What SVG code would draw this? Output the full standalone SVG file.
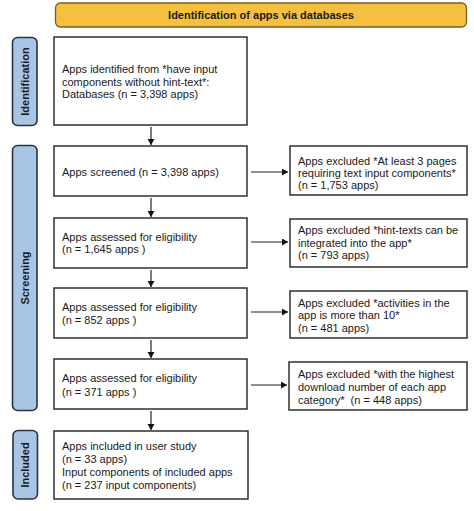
<svg xmlns="http://www.w3.org/2000/svg" width="474" height="511" viewBox="0 0 474 511">
<style>
text{font-family:"Liberation Sans",Arial,sans-serif;font-size:11px;fill:#1a1a1a}
.box{fill:#fff;stroke:#222;stroke-width:1.4}
.side{fill:#a9c5e6;stroke:#2a3440;stroke-width:1.6}
.banner{fill:#f5c040;stroke:#7a5c22;stroke-width:1.3}
.b{font-weight:bold}
.c{fill:none;stroke:#222;stroke-width:1.2}
</style>
<defs>
<marker id="ah" markerWidth="8" markerHeight="8" refX="6" refY="3.5" orient="auto" markerUnits="userSpaceOnUse">
<path d="M0,0 L6,3.5 L0,7 Z" fill="#111"/>
</marker>
</defs>
<rect width="474" height="511" fill="#fff"/>
<g id="banner">
<rect class="banner" x="55.5" y="3" width="411" height="24" rx="5"/>
<text class="b" x="261" y="19" text-anchor="middle">Identification of apps via databases</text>
</g>
<g id="label-identification">
<rect class="side" x="12.5" y="37.5" width="24.5" height="88" rx="5"/>
<text class="b" transform="translate(28.5,81.5) rotate(-90)" text-anchor="middle">Identification</text>
</g>
<g id="label-screening">
<rect class="side" x="12.5" y="145.5" width="24.5" height="265" rx="5"/>
<text class="b" transform="translate(28.5,278) rotate(-90)" text-anchor="middle">Screening</text>
</g>
<g id="label-included">
<rect class="side" x="13" y="430.5" width="24.5" height="68.5" rx="5"/>
<text class="b" transform="translate(29,465) rotate(-90)" text-anchor="middle">Included</text>
</g>
<g id="identified">
<rect class="box" x="54" y="37" width="193" height="88"/>
<text x="62" y="73">Apps identified from *have input</text>
<text x="62" y="86">components without hint-text*:</text>
<text x="62" y="98">Databases (n = 3,398 apps)</text>
</g>
<g id="screened">
<rect class="box" x="54" y="146" width="193" height="50"/>
<text x="62" y="176">Apps screened (n = 3,398 apps)</text>
</g>
<g id="excluded1">
<rect class="box" x="290" y="146" width="177" height="49"/>
<text x="298" y="165">Apps excluded *At least 3 pages</text>
<text x="298" y="177">requiring text input components*</text>
<text x="298" y="189">(n = 1,753 apps)</text>
</g>
<g id="eligibility1">
<rect class="box" x="54" y="218" width="193" height="50"/>
<text x="62" y="240.5">Apps assessed for eligibility</text>
<text x="62" y="253">(n = 1,645 apps )</text>
</g>
<g id="excluded2">
<rect class="box" x="290" y="219" width="177" height="48"/>
<text x="298" y="234">Apps excluded *hint-texts can be</text>
<text x="298" y="247">integrated into the app*</text>
<text x="298" y="259">(n = 793 apps)</text>
</g>
<g id="eligibility2">
<rect class="box" x="54" y="288" width="193" height="50"/>
<text x="62" y="311">Apps assessed for eligibility</text>
<text x="62" y="324">(n = 852 apps )</text>
</g>
<g id="excluded3">
<rect class="box" x="290" y="291" width="177" height="47"/>
<text x="298" y="307">Apps excluded *activities in the</text>
<text x="298" y="319">app is more than 10*</text>
<text x="298" y="332">(n = 481 apps)</text>
</g>
<g id="eligibility3">
<rect class="box" x="54" y="359" width="193" height="50"/>
<text x="62" y="382">Apps assessed for eligibility</text>
<text x="62" y="396">(n = 371 apps )</text>
</g>
<g id="excluded4">
<rect class="box" x="289" y="362" width="178" height="48"/>
<text x="298" y="378">Apps excluded *with the highest</text>
<text x="298" y="391">download number of each app</text>
<text x="298" y="404">category*&#160; (n = 448 apps)</text>
</g>
<g id="included">
<rect class="box" x="54" y="431" width="194" height="68"/>
<text x="62" y="450">Apps included in user study</text>
<text x="62" y="463">(n = 33 apps)</text>
<text x="62" y="476">Input components of included apps</text>
<text x="62" y="489">(n = 237 input components)</text>
</g>
<g id="connectors">
<line class="c" x1="151" y1="127" x2="151" y2="145" marker-end="url(#ah)"/>
<line class="c" x1="151" y1="198" x2="151" y2="217" marker-end="url(#ah)"/>
<line class="c" x1="151" y1="270" x2="151" y2="287" marker-end="url(#ah)"/>
<line class="c" x1="151" y1="340" x2="151" y2="358" marker-end="url(#ah)"/>
<line class="c" x1="151" y1="411" x2="151" y2="430" marker-end="url(#ah)"/>
<line class="c" x1="251" y1="172" x2="288" y2="172" marker-end="url(#ah)"/>
<line class="c" x1="251" y1="242" x2="288" y2="242" marker-end="url(#ah)"/>
<line class="c" x1="251" y1="312" x2="288" y2="312" marker-end="url(#ah)"/>
<line class="c" x1="251" y1="385" x2="287" y2="385" marker-end="url(#ah)"/>
</g>
</svg>
